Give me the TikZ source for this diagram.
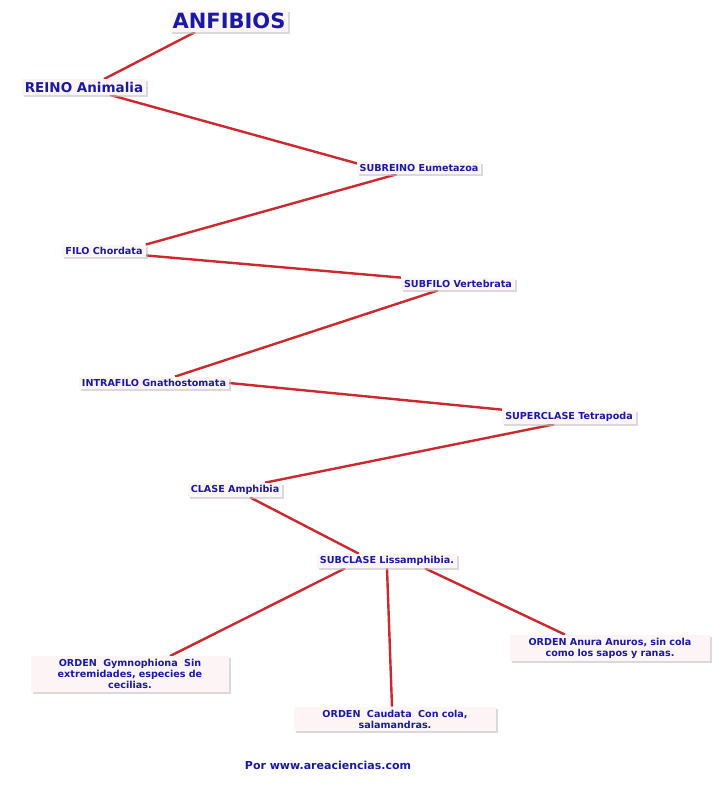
\documentclass[tikz,border=0pt]{standalone}
\usepackage{fontspec}
\setmainfont{DejaVu Sans}
\usetikzlibrary{calc,shadows,backgrounds}
\definecolor{tblue}{RGB}{25,25,165}
\definecolor{lred}{RGB}{205,40,45}
\definecolor{bfill}{RGB}{253,245,245}
\begin{document}
\begin{tikzpicture}[x=1pt,y=-1pt,
  box/.style={fill=bfill,text=tblue,font=\bfseries\fontsize{9.6}{11}\selectfont,inner xsep=3pt,inner ysep=2.5pt,
    drop shadow={shadow xshift=2pt,shadow yshift=-2pt,fill=black!25,opacity=0.6}},
  big/.style={box,font=\bfseries\fontsize{13.5}{15}\selectfont},
  ord/.style={box,align=center,text width=#1,inner ysep=3pt},
  conn/.style={draw=lred,line width=2.4pt}]
\useasboundingbox (0,0) rectangle (726,801);
\node[box,font=\bfseries\fontsize{21}{24}\selectfont,inner ysep=3pt] (title) at (229,21) {ANFIBIOS};
\node[big] (reino) at (84,87) {REINO Animalia};
\node[box] (sub) at (419,168) {SUBREINO Eumetazoa};
\node[box] (filo) at (104,251) {FILO Chordata};
\node[box] (subf) at (458,284) {SUBFILO Vertebrata};
\node[box] (intra) at (154,383) {INTRAFILO Gnathostomata};
\node[box] (sup) at (569,417) {SUPERCLASE Tetrapoda};
\node[box] (clase) at (235,490) {CLASE Amphibia};
\node[box] (subc) at (387,561) {SUBCLASE Lissamphibia.};
\node[ord=192pt] (gym) at (130,674) {ORDEN\ \ Gymnophiona\ \ Sin\\ extremidades, especies de\\ cecilias.};
\node[ord=196pt] (cau) at (395,719) {ORDEN\ \ Caudata\ \ Con cola,\\ salamandras.};
\node[ord=194pt] (anu) at (610,648) {ORDEN Anura Anuros, sin cola\\ como los sapos y ranas.};
\node[text=tblue,font=\bfseries\fontsize{11}{13}\selectfont] (por) at (328,765) {Por www.areaciencias.com};
\begin{scope}[on background layer]
\draw[conn] ($(title.south)+(-34,0)$) -- ($(reino.north)+(20,0)$);
\draw[conn] ($(reino.south)+(26,0)$) -- ($(sub.south west)+(40,0)$);
\draw[conn] ($(sub.south west)+(40,0)$) -- (filo.north east);
\draw[conn] ($(filo.south east)+(0,-2)$) -- (subf.north west);
\draw[conn] ($(subf.south west)+(37,0)$) -- ($(intra.north)+(21,0)$);
\draw[conn] (intra.east) -- (sup.north west);
\draw[conn] ($(sup.south west)+(52,0)$) -- ($(clase.north)+(30,0)$);
\draw[conn] ($(clase.south)+(15,0)$) -- ($(subc.north west)+(42,0)$);
\draw[conn] ($(subc.south)+(-42,0)$) -- ($(gym.north)+(40,0)$);
\draw[conn] (subc.south) -- ($(cau.north)+(-3,0)$);
\draw[conn] ($(subc.south)+(38,0)$) -- ($(anu.north)+(-45,0)$);
\end{scope}
\end{tikzpicture}
\end{document}
